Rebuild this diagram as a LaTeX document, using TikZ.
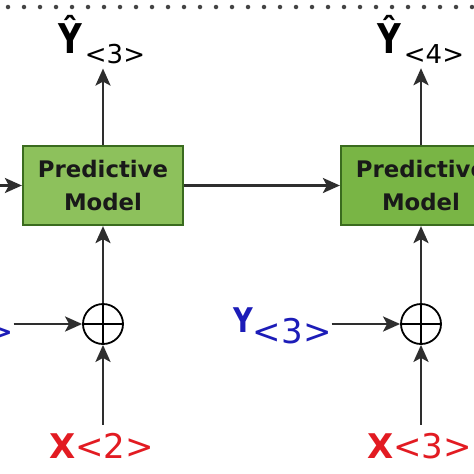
\documentclass[tikz,border=0pt]{standalone}
\usepackage{fontspec}
\setmainfont{DejaVu Sans}
\usetikzlibrary{arrows.meta}
\definecolor{gA}{HTML}{8DC15C}
\definecolor{gB}{HTML}{79B545}
\definecolor{gE}{HTML}{3A6B1E}
\definecolor{redx}{HTML}{E21B22}
\definecolor{bluey}{HTML}{1C1CB8}
\definecolor{ln}{HTML}{2E2E2E}
\definecolor{dotc}{HTML}{444444}
\begin{document}
\begin{tikzpicture}[x=1pt,y=-1pt,
  pm/.style={draw=gE, line width=2.2pt, minimum width=160pt, minimum height=79pt,
    inner sep=0pt, align=center, text=black!90,
    font=\fontsize{22.8}{33}\selectfont\bfseries},
  arr/.style={draw=ln, line width=2.6pt, -{Stealth[length=17pt,width=15pt,inset=4pt]}},
  oplus/.style={circle, draw=black, line width=1.8pt, minimum size=40pt, inner sep=0pt},
  lab/.style={inner xsep=0pt, inner ysep=6pt, anchor=base west},
  hatlab/.style={inner xsep=0pt, inner ysep=5pt, anchor=base west},
  dotline/.style={draw=dotc, line width=4.5pt, line cap=round, dash pattern=on 0pt off 16pt}]
\useasboundingbox (0,0) rectangle (474,474);
\clip (0,0) rectangle (474,474);
\fill[white] (0,0) rectangle (474,474);
\draw[dotline] (8,7) -- (480,7);
% boxes
\node[pm, fill=gA] (m1) at (103,185.5) {Predictive\\Model};
\node[pm, fill=gB] (m2) at (421,185.5) {Predictive\\Model};
% circles
\node[oplus] (c1) at (103,324) {};
\node[oplus] (c2) at (421,324) {};
\draw[line width=1.8pt] (c1.north) -- (c1.south) (c1.west) -- (c1.east);
\draw[line width=1.8pt] (c2.north) -- (c2.south) (c2.west) -- (c2.east);
% output labels
\node[hatlab] (h3) at (58,53) {\fontsize{41}{41}\selectfont\bfseries\scalebox{0.8}[1]{Ŷ}\hspace{3pt}\fontsize{26}{26}\selectfont\mdseries\raisebox{-10pt}{<3>}};
\node[hatlab] (h4) at (377,53) {\fontsize{41}{41}\selectfont\bfseries\scalebox{0.8}[1]{Ŷ}\hspace{3pt}\fontsize{26}{26}\selectfont\mdseries\raisebox{-10pt}{<4>}};
% Y inputs
\node[lab, text=bluey] (y2) at (-85,332) {\fontsize{34}{34}\selectfont\bfseries\scalebox{0.8}[1]{Y}\mdseries\raisebox{-11pt}{<2>}};
\node[lab, text=bluey] (y3) at (233,332) {\fontsize{34}{34}\selectfont\bfseries\scalebox{0.8}[1]{Y}\mdseries\raisebox{-11pt}{<3>}};
% X inputs
\node[lab, text=redx, inner ysep=8pt] (x2) at (49,458) {\fontsize{34}{34}\selectfont\bfseries X\mdseries <2>};
\node[lab, text=redx, inner ysep=8pt] (x3) at (367,458) {\fontsize{34}{34}\selectfont\bfseries X\mdseries <3>};
\coordinate (inL) at (-5,185.5);
% connectors
\draw[arr] (inL) -- (m1.west);
\draw[arr] (m1.east) -- (m2.west);
\draw[arr] (m1.north) -- (m1.north |- h3.south);
\draw[arr] (m2.north) -- (m2.north |- h4.south);
\draw[arr] (c1.north) -- (m1.south);
\draw[arr] (c2.north) -- (m2.south);
\draw[arr] (c1 |- x2.north) -- (c1.south);
\draw[arr] (c2 |- x3.north) -- (c2.south);
\draw[arr] (y2.east |- c1) -- (c1.west);
\draw[arr] (y3.east |- c2) -- (c2.west);
\end{tikzpicture}
\end{document}
